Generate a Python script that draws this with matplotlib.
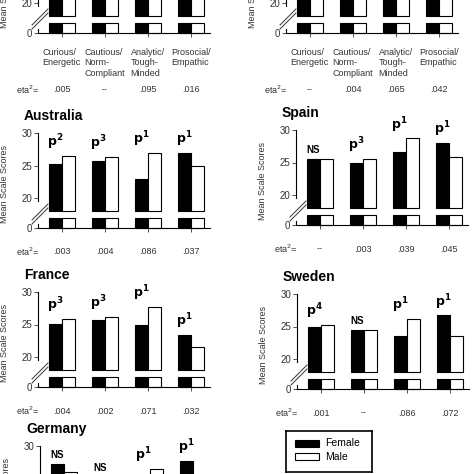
import matplotlib
matplotlib.use('Agg')
from matplotlib import pyplot as plt
from matplotlib.lines import Line2D
from matplotlib.patches import Rectangle

plt.rcParams['font.family'] = ['Liberation Sans', 'DejaVu Sans']

W = 474
categories = ['Curious/\nEnergetic', 'Cautious/\nNorm-\nCompliant', 'Analytic/\nTough-\nMinded', 'Prosocial/\nEmpathic']

# top row (mostly cut off)
top_left_f = [24.5, 24.0, 23.5, 26.0]
top_left_m = [25.0, 24.2, 25.8, 24.5]
top_left_eta = ['.005', '--', '.095', '.016']
top_right_f = [24.5, 24.5, 23.8, 26.5]
top_right_m = [24.6, 25.0, 26.0, 24.5]
top_right_eta = ['--', '.004', '.065', '.042']

aus_f = [25.2, 25.7, 23.0, 27.0]
aus_m = [26.4, 26.3, 27.0, 25.0]
aus_sig = ['p^{2}', 'p^{3}', 'p^{1}', 'p^{1}']
aus_eta = ['.003', '.004', '.086', '.037']

spain_f = [25.6, 25.0, 26.6, 28.0]
spain_m = [25.6, 25.6, 28.7, 25.8]
spain_sig = ['NS', 'p^{3}', 'p^{1}', 'p^{1}']
spain_eta = ['--', '.003', '.039', '.045']

france_f = [25.1, 25.7, 25.0, 23.4]
france_m = [25.8, 26.2, 27.7, 21.6]
france_sig = ['p^{3}', 'p^{3}', 'p^{1}', 'p^{1}']
france_eta = ['.004', '.002', '.071', '.032']

sweden_f = [24.9, 24.4, 23.6, 26.7]
sweden_m = [25.2, 24.5, 26.2, 23.6]
sweden_sig = ['p^{4}', 'NS', 'p^{1}', 'p^{1}']
sweden_eta = ['.001', '--', '.086', '.072']

germany_f = [27.3, 25.0, 24.0, 27.7]
germany_m = [26.0, 25.2, 26.5, 24.0]
germany_sig = ['NS', 'NS', 'p^{1}', 'p^{1}']
germany_eta = ['', '', '', '']

fig = plt.figure(figsize=(4.74, 4.74), dpi=100)


def fx(px):
    return px / W


def fy(py):
    return 1 - py / W


def panel(x0, y0, title, fem, mal, sig, eta, cats=False, sig_on=True):
    width = 172
    up = fig.add_axes([fx(x0), fy(y0 - 17), width / W, 78 / W])
    lo = fig.add_axes([fx(x0), fy(y0), width / W, 12 / W])
    centers = [i + 0.55 for i in range(4)]
    xf = [c - 0.15 for c in centers]
    xm = [c + 0.15 for c in centers]
    up.bar(xf, [v - 18 for v in fem], bottom=18, width=0.3, color='black', edgecolor='black', lw=0.8)
    up.bar(xm, [v - 18 for v in mal], bottom=18, width=0.3, color='white', edgecolor='black', lw=0.8)
    lo.bar(xf, [1] * 4, width=0.3, color='black', edgecolor='black', lw=0.8)
    lo.bar(xm, [1] * 4, width=0.3, color='white', edgecolor='black', lw=0.8)
    for ax in (up, lo):
        ax.set_xlim(0, 4)
        ax.patch.set_visible(False)
        for s in ('top', 'right'):
            ax.spines[s].set_visible(False)
        ax.tick_params(labelsize=7, length=3, width=0.6, colors='#333333', pad=1)
        ax.spines['left'].set_linewidth(0.8)
        for b in ax.patches:
            b.set_clip_on(False)
    up.set_ylim(18, 30)
    up.set_yticks([20, 25, 30])
    up.spines['left'].set_bounds(19.5, 30)
    up.spines['bottom'].set_visible(False)
    up.set_xticks([])
    lo.set_ylim(0, 1.2)
    lo.set_yticks([0])
    lo.spines['left'].set_bounds(0, 0.4)
    lo.set_xticks(centers)
    lo.set_xticklabels([])
    lo.tick_params(axis='x', length=3)
    lo.spines['bottom'].set_linewidth(0.8)
    # break marks
    for d in (0, 4):
        fig.add_artist(Line2D([fx(x0 - 6), fx(x0 + 10)], [fy(y0 - 8 + d), fy(y0 - 24 + d)], color='#333333', lw=0.7))
    if title:
        fig.text(fx(x0 - 14), fy(y0 - 112), title, fontsize=10, fontweight='bold', va='center')
    up.set_ylabel('Mean Scale Scores', fontsize=6.5, color='#333333', labelpad=2)
    up.yaxis.set_label_coords(-0.17, 0.35)
    if sig_on:
        for c, s, a, b in zip(centers, sig, fem, mal):
            txt = 'NS' if s == 'NS' else r'$\mathbf{' + s + '}$'
            up.text(c - 0.15, max(a, b) + 0.6, txt, fontsize=7 if s == 'NS' else 9,
                    fontweight='bold', ha='center', va='bottom', clip_on=False)
    ey = y0 + (57 if cats else 24)
    if cats:
        for c, t in zip(centers, categories):
            lo.text(c, -1.5, t, fontsize=6.5, ha='center', va='top', multialignment='left',
                    color='#333333', clip_on=False)
    if any(eta):
        fig.text(fx(x0 - 22), fy(ey), r'eta$^2$=', fontsize=6.5, color='#333333', va='center')
        for c, e in zip(centers, eta):
            fig.text(fx(x0 + c * 43), fy(ey), e, fontsize=6.5, ha='center', va='center', color='#333333')


panel(38, 33, None, top_left_f, top_left_m, None, top_left_eta, cats=True, sig_on=False)
panel(286, 33, None, top_right_f, top_right_m, None, top_right_eta, cats=True, sig_on=False)
panel(38, 228, 'Australia', aus_f, aus_m, aus_sig, aus_eta)
panel(296, 225, 'Spain', spain_f, spain_m, spain_sig, spain_eta)
panel(38, 387, 'France', france_f, france_m, france_sig, france_eta)
panel(297, 389, 'Sweden', sweden_f, sweden_m, sweden_sig, sweden_eta)
panel(40, 541, 'Germany', germany_f, germany_m, germany_sig, germany_eta)

# legend
lg = fig.add_axes([fx(286), fy(472), 86 / W, 41 / W])
lg.set_xlim(0, 86)
lg.set_ylim(41, 0)
lg.set_xticks([])
lg.set_yticks([])
for s in lg.spines.values():
    s.set_linewidth(1.2)
lg.add_patch(Rectangle((9, 9), 24, 7, facecolor='black', edgecolor='black', lw=0.8))
lg.add_patch(Rectangle((9, 22), 24, 7, facecolor='white', edgecolor='black', lw=0.8))
lg.text(39, 12.5, 'Female', fontsize=7.5, va='center')
lg.text(39, 25.5, 'Male', fontsize=7.5, va='center')

fig.savefig('out.png', dpi=100)
